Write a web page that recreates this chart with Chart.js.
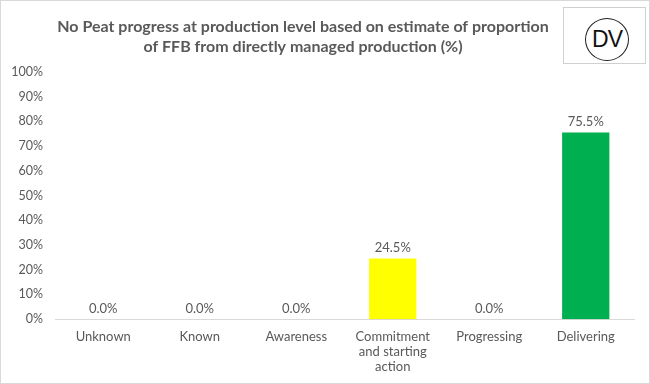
<!DOCTYPE html>
<html>
<head>
<meta charset="utf-8">
<script src="https://cdn.jsdelivr.net/npm/chart.js@4"></script>
<style>
  html, body { margin: 0; padding: 0; background: #fff; }
  #wrap { position: relative; width: 650px; height: 384px; box-sizing: border-box; border: 1px solid #d9d9d9; }
  #dv { position: absolute; left: 562px; top: 6px; width: 83px; height: 57px; box-sizing: border-box; border: 1px solid #d0d0d0; background: #fff; }
  #dv span { position: absolute; left: 21px; top: 10px; width: 42px; height: 41px; border: 1.3px solid #222; border-radius: 50%;
    font: 23px "Liberation Sans", Arial, sans-serif; color: #111; text-align: center; line-height: 41px; letter-spacing: -1px; }
</style>
</head>
<body>
<div id="wrap">
  <canvas id="chart" width="648" height="382"></canvas>
  <div id="dv"><span>DV</span></div>
</div>
<script>
const categories = ["Unknown", "Known", "Awareness", ["Commitment", "and starting", "action"], "Progressing", "Delivering"];
const values = [0, 0, 0, 24.5, 0, 75.5];
const barColors = ["#FFFF00", "#FFFF00", "#FFFF00", "#FFFF00", "#00B050", "#00B050"];
const titleLines = ["No Peat progress at production level based on estimate of proportion", "of FFB from directly managed production (%)"];

const textGray = "#595959";
const fontFamily = "Lato, 'Open Sans', sans-serif";

// chart title (sits left of the DV badge, so not centred on the canvas)
const titleText = {
    id: "titleText",
    afterDraw(chart) {
        const ctx = chart.ctx;
        ctx.save();
        ctx.fillStyle = textGray;
        ctx.font = "bold 16px " + fontFamily;
        ctx.textAlign = "center";
        ctx.textBaseline = "middle";
        ctx.fillText(titleLines[0], 302, 26);
        ctx.fillText(titleLines[1], 302, 46);
        ctx.restore();
    }
};

// value labels above each bar
const valueLabels = {
    id: "valueLabels",
    afterDatasetsDraw(chart) {
        const ctx = chart.ctx;
        const meta = chart.getDatasetMeta(0);
        ctx.save();
        ctx.fillStyle = textGray;
        ctx.font = "13px " + fontFamily;
        ctx.textAlign = "center";
        ctx.textBaseline = "bottom";
        meta.data.forEach((bar, i) => {
            ctx.fillText(values[i].toFixed(1) + "%", bar.x, bar.y - 4);
        });
        ctx.restore();
    }
};

new Chart(document.getElementById("chart").getContext("2d"), {
    type: "bar",
    data: {
        labels: categories,
        datasets: [{
            data: values,
            backgroundColor: barColors,
            borderWidth: 0,
            categoryPercentage: 1,
            barPercentage: 0.49
        }]
    },
    options: {
        responsive: false,
        animation: false,
        layout: { padding: { top: 71, left: 0, right: 15, bottom: 7 } },
        scales: {
            y: {
                min: 0, max: 100,
                grid: { display: false },
                border: { display: false },
                afterFit: scale => { scale.width = 54; },
                ticks: { stepSize: 10, color: textGray, font: { size: 12.5, family: fontFamily }, padding: 4,
                    callback: v => v + "%" }
            },
            x: {
                grid: { display: false },
                border: { color: "#d9d9d9" },
                ticks: { color: textGray, font: { size: 13, family: fontFamily, lineHeight: 1.15 }, padding: 2, maxRotation: 0 }
            }
        },
        plugins: {
            legend: { display: false },
            tooltip: { enabled: false },
            title: { display: false }
        }
    },
    plugins: [valueLabels, titleText]
});
</script>
</body>
</html>
